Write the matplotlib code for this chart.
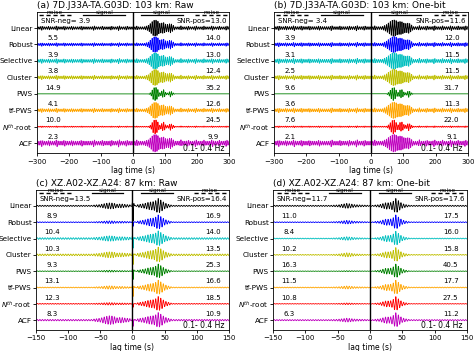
import numpy as np
import matplotlib.pyplot as plt

labels = ['Linear', 'Robust', 'Selective', 'Cluster', 'PWS', 'tf-PWS', r'$N^{th}$-root', 'ACF']
colors = ['black', 'blue', 'c', 'y', 'green', 'orange', 'red', 'm']

titles = ['(a) 7D.J33A-TA.G03D: 103 km: Raw',
          '(b) 7D.J33A-TA.G03D: 103 km: One-bit',
          '(c) XZ.A02-XZ.A24: 87 km: Raw',
          '(d) XZ.A02-XZ.A24: 87 km: One-bit']

snr_neg = [[3.9, 5.5, 3.9, 3.8, 14.9, 4.1, 10.0, 2.3],
           [3.4, 3.9, 3.1, 2.5, 9.6, 3.6, 7.6, 2.1],
           [13.5, 8.9, 10.4, 10.3, 9.3, 13.1, 12.3, 8.3],
           [11.7, 11.0, 8.4, 10.2, 16.3, 11.5, 10.8, 6.3]]
snr_pos = [[13.0, 14.0, 13.0, 12.4, 35.2, 12.6, 24.5, 9.9],
           [11.6, 12.0, 11.5, 11.5, 31.7, 11.3, 22.0, 9.1],
           [16.4, 16.9, 14.0, 13.5, 25.3, 16.6, 18.5, 10.9],
           [17.6, 17.5, 16.0, 15.8, 40.5, 17.7, 27.5, 11.2]]

# half-range of lag axis, windows (noise, signal) for each panel
xmax = [300, 300, 150, 150]
noise_win = [(195, 298), (195, 298), (95, 145), (95, 145)]
signal_win = [(25, 155), (25, 155), (14, 63), (14, 63)]

# envelope knots (relative to the strongest arrival)
pos_lag_ab = [35, 48, 56, 63, 70, 77, 84, 90, 96, 103, 110, 117, 123, 132]
pos_broad_a = [0, 0.2, 0.55, 0.9, 1.0, 0.85, 0.5, 0.55, 0.6, 0.35, 0.35, 0.5, 0.3, 0]
pos_sharp_a = [0, 0, 0.2, 0.8, 1.0, 0.7, 0.15, 0.4, 0.6, 0.15, 0.1, 0.45, 0.2, 0]
pos_broad_b = [0, 0.3, 0.6, 0.85, 1.0, 0.9, 0.7, 0.75, 0.7, 0.5, 0.45, 0.55, 0.35, 0]
pos_sharp_b = [0, 0, 0.25, 0.7, 1.0, 0.6, 0.2, 0.55, 0.6, 0.2, 0.15, 0.5, 0.2, 0]

pos_lag_cd = [8, 15, 20, 25, 30, 35, 40, 45, 50, 56, 62]
pos_amp_c = [0.1, 0.2, 0.3, 0.45, 0.5, 0.6, 1.0, 0.7, 0.35, 0.15, 0.0]
pos_amp_d = [0.05, 0.1, 0.25, 0.4, 0.35, 0.5, 1.0, 0.6, 0.25, 0.1, 0.0]
neg_lag_cd = [-60, -50, -42, -36, -30, -24, -18, -10, -4]
neg_amp_c = [0.05, 0.15, 0.35, 0.45, 0.4, 0.2, 0.25, 0.15, 0.1]
neg_amp_d = [0.02, 0.08, 0.25, 0.4, 0.3, 0.15, 0.1, 0.05, 0.02]

# short noise bursts in the long-lag panels
burst_lag = [-285, -262, -238, -214, -190, -160, -122, -95, -68, -44, -20, 12,
             150, 172, 196, 221, 248, 270, 292]
burst_amp = [0.25, 0.15, 0.3, 0.2, 0.15, 0.2, 0.3, 0.15, 0.2, 0.35, 0.2, 0.2,
             0.25, 0.2, 0.3, 0.2, 0.3, 0.15, 0.25]

noise_lvl = [[0.18, 0.15, 0.2, 0.18, 0.0, 0.18, 0.06, 0.28],
             [0.2, 0.18, 0.22, 0.2, 0.0, 0.2, 0.07, 0.28],
             [0.08, 0.06, 0.12, 0.12, 0.04, 0.06, 0.06, 0.1],
             [0.08, 0.06, 0.06, 0.06, 0.03, 0.06, 0.04, 0.08]]
neg_scale = [None, None,
             [0.8, 0.3, 0.6, 0.7, 0.2, 0.4, 0.25, 1.2],
             [0.7, 0.5, 0.5, 0.6, 0.1, 0.4, 0.2, 0.5]]
zero_spike = [[0] * 8, [0] * 8,
              [2.2, 0.6, 1.4, 1.4, 1.2, 1.3, 0.5, 0.9],
              [0] * 8]

period = [6.0, 6.0, 4.0, 4.0]


def make_trace(p, i):
    t = np.arange(-xmax[p], xmax[p] + 0.01, 0.1 if p > 1 else 0.25)
    if p < 2:
        b = np.zeros_like(t)
        for lag, a in zip(burst_lag, burst_amp):
            b += a * np.exp(-((t - lag) / 3.0) ** 2)
        env = noise_lvl[p][i] * (1 + 3 * b)
        sharp = i in (4, 6)
        if p == 0:
            amps = pos_sharp_a if sharp else pos_broad_a
        else:
            amps = pos_sharp_b if sharp else pos_broad_b
        env += np.interp(t, pos_lag_ab, amps, left=0, right=0)
    else:
        env = noise_lvl[p][i] * np.ones_like(t)
        pa = pos_amp_c if p == 2 else pos_amp_d
        na = neg_amp_c if p == 2 else neg_amp_d
        env += np.interp(t, pos_lag_cd, pa, left=0, right=0)
        env += neg_scale[p][i] * np.interp(t, neg_lag_cd, na, left=0, right=0)
    y = env * np.cos(2 * np.pi * t / period[p])
    y -= zero_spike[p][i] * np.exp(-((t - 1.0) / 1.0) ** 2) * np.cos(2 * np.pi * (t - 1.0) / 3.0)
    return t, y


fig = plt.figure(figsize=(4.74, 3.51), dpi=100)
positions = [[0.078, 0.564, 0.405, 0.402],
             [0.578, 0.564, 0.409, 0.402],
             [0.076, 0.060, 0.407, 0.399],
             [0.576, 0.060, 0.409, 0.399]]

for p in range(4):
    ax = fig.add_axes(positions[p])
    xm = xmax[p]
    for i in range(8):
        t, y = make_trace(p, i)
        ax.plot(t, -i + 0.42 * y, color=colors[i], lw=0.6)
    ax.axvline(0, color='k', lw=1.0)

    # window markers
    top = 0.78
    for s in (-1, 1):
        n0, n1 = noise_win[p]
        ax.plot([s * n0, s * n1], [top, top], 'k--', lw=1.0, dashes=(3, 2))
        ax.text(s * (n0 + n1) / 2, 0.93, 'noise', ha='center', va='center', fontsize=4.3)
        s0, s1 = signal_win[p]
        ax.plot([s * s0, s * s1], [top, top], 'k-', lw=0.9)
        ax.text(s * (s0 + s1) / 2, 0.93, 'signal', ha='center', va='center', fontsize=4.3)

    # SNR values
    ax.text(-0.96 * xm, 0.4, 'SNR-neg=%4.1f' % snr_neg[p][0], ha='left', va='center', fontsize=5)
    ax.text(0.98 * xm, 0.4, 'SNR-pos=%4.1f' % snr_pos[p][0], ha='right', va='center', fontsize=5)
    for i in range(1, 8):
        ax.text(-5 / 6 * xm, -i + 0.38, '%.1f' % snr_neg[p][i], ha='center', va='center', fontsize=5)
        ax.text(5 / 6 * xm, -i + 0.38, '%.1f' % snr_pos[p][i], ha='center', va='center', fontsize=5)
    ax.text(0.95 * xm, -7.32, '0.1- 0.4 Hz', ha='right', va='center', fontsize=5.5)

    ax.set_xlim(-xm, xm)
    ax.set_ylim(-7.6, 0.98)
    ax.set_yticks(-np.arange(8))
    ax.set_yticklabels(labels, fontsize=5.2)
    ax.set_xticks(np.linspace(-xm, xm, 7))
    ax.tick_params(axis='x', labelsize=5, length=2.5, pad=1.5, width=0.6)
    ax.tick_params(axis='y', length=2, pad=1, width=0.6)
    for sp in ax.spines.values():
        sp.set_linewidth(0.6)
    ax.set_xlabel('lag time (s)', fontsize=5.5, labelpad=1)
    ax.set_title(titles[p], fontsize=6.5, pad=3, loc='left')

fig.savefig('out.png', dpi=100)
